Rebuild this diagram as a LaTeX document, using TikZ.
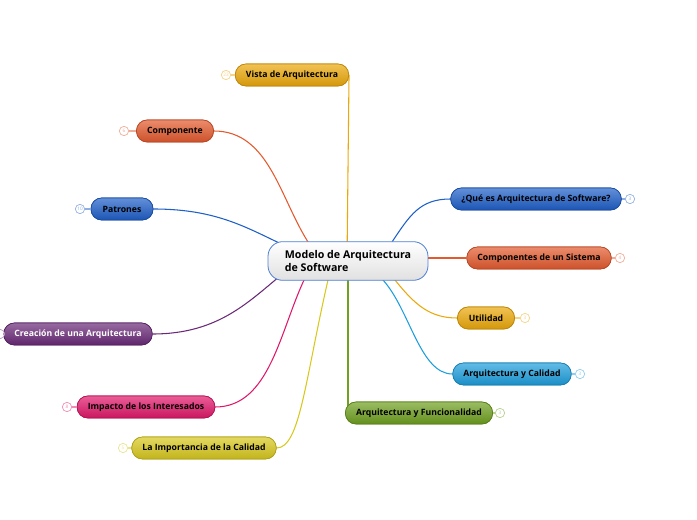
\documentclass[tikz,border=0pt]{standalone}
\usepackage{fontspec}
\setmainfont{Open Sans}
\begin{document}
\begin{tikzpicture}[x=0.75pt,y=-0.75pt,
  br/.style={rounded corners=8pt,draw=#1!80!black,line width=0.5pt,top color=#1!70!white,bottom color=#1!90!black,minimum height=16.5pt,inner xsep=8pt,font=\fontsize{6.5}{7}\selectfont\bfseries,text=black},
  cnt/.style={circle,draw=#1!50!white,line width=0.5pt,fill=white,inner sep=0pt,minimum size=7pt,font=\fontsize{3.5}{4}\selectfont,text=#1!50!white},
  ln/.style={draw=#1,line width=0.8pt}]
\useasboundingbox (0,0) rectangle (697,520);
\definecolor{cOr}{HTML}{EBA80A}
\definecolor{cRe}{HTML}{E35A2E}
\definecolor{cBl}{HTML}{1F5FC8}
\definecolor{cPu}{HTML}{6A2A78}
\definecolor{cPi}{HTML}{E0186A}
\definecolor{cYe}{HTML}{D8C81E}
\definecolor{cSk}{HTML}{1E9EDC}
\definecolor{cGr}{HTML}{6FA020}
% connectors first
\coordinate (c) at (348,261);
\node[br=cOr,minimum width=82.5pt] (vista) at (292,75) {Vista de Arquitectura};
\node[br=cRe,minimum width=57.75pt] (comp) at (175,131) {Componente};
\node[br=cBl,minimum width=46.5pt] (pat) at (122,209) {Patrones};
\node[br=cPu,minimum width=106.5pt,text=white] (crea) at (78,334) {Creación de una Arquitectura};
\node[br=cPi,minimum width=100.5pt] (imp) at (146,407) {Impacto de los Interesados};
\node[br=cYe,minimum width=105pt] (calq) at (204,448) {La Importancia de la Calidad};
\node[br=cBl,minimum width=123.75pt] (que) at (536,199) {¿Qué es Arquitectura de Software?};
\node[br=cRe,minimum width=104.25pt] (csis) at (539,258) {Componentes de un Sistema};
\node[br=cOr,minimum width=42.75pt] (util) at (486,318) {Utilidad};
\node[br=cSk,minimum width=86.25pt] (acal) at (512,374) {Arquitectura y Calidad};
\node[br=cGr,minimum width=105pt] (afun) at (419,413) {Arquitectura y Funcionalidad};
\begin{scope}[on background layer/.style={}]
\draw[ln=cOr] (vista.east) -- (347,261);
\draw[ln=cRe] (comp.east) .. controls (270,131) and (280,200) .. (310,245);
\draw[ln=cBl] (pat.east) .. controls (220,209) and (250,230) .. (290,248);
\draw[ln=cPu] (crea.east) .. controls (220,334) and (250,300) .. (285,272);
\draw[ln=cPi] (imp.east) .. controls (270,407) and (280,330) .. (305,278);
\draw[ln=cYe] (calq.east) .. controls (300,448) and (305,380) .. (328,280);
\draw[ln=cBl] (que.west) .. controls (420,199) and (410,215) .. (392,242);
\draw[ln=cRe] (csis.west) -- (427,258);
\draw[ln=cOr] (util.west) .. controls (430,318) and (415,305) .. (395,280);
\draw[ln=cSk] (acal.west) .. controls (420,374) and (410,310) .. (383,280);
\draw[ln=cGr] (348,280) -- (348,413) -- (afun.west);
\end{scope}
\node[rounded corners=11pt,draw=cBl!80!white,line width=0.6pt,top color=white,bottom color=black!12,minimum width=120pt,minimum height=29pt,align=left,font=\fontsize{8}{9.5}\selectfont\bfseries] (ctr) at (c) {Modelo de Arquitectura\\de Software};
% redraw branch nodes on top of lines
\foreach \n/\col/\w/\x/\y/\t in {vista/cOr/82.5/292/75/Vista de Arquitectura, comp/cRe/57.75/175/131/Componente, pat/cBl/46.5/122/209/Patrones, imp/cPi/100.5/146/407/Impacto de los Interesados, calq/cYe/105/204/448/La Importancia de la Calidad, que/cBl/123.75/536/199/¿Qué es Arquitectura de Software?, csis/cRe/104.25/539/258/Componentes de un Sistema, util/cOr/42.75/486/318/Utilidad, acal/cSk/86.25/512/374/Arquitectura y Calidad, afun/cGr/105/419/413/Arquitectura y Funcionalidad}
  {\node[br=\col,minimum width=\w pt] at (\x,\y) {\t};}
\node[br=cPu,minimum width=106.5pt,text=white] at (78,334) {Creación de una Arquitectura};
% counters
\node[cnt=cOr] (n1) at (226,75) {23}; \draw[cOr!50!white,line width=0.8pt] (n1) -- (vista.west);
\node[cnt=cRe] (n2) at (124,131) {6}; \draw[cRe!50!white,line width=0.8pt] (n2) -- (comp.west);
\node[cnt=cBl] (n3) at (80,209) {10}; \draw[cBl!50!white,line width=0.8pt] (n3) -- (pat.west);
\node[cnt=cPu] (n4) at (0,334) {}; \draw[cPu!50!white,line width=0.8pt] (n4) -- (crea.west);
\node[cnt=cPi] (n5) at (67,407) {8}; \draw[cPi!50!white,line width=0.8pt] (n5) -- (imp.west);
\node[cnt=cYe] (n6) at (123,448) {5}; \draw[cYe!50!white,line width=0.8pt] (n6) -- (calq.west);
\node[cnt=cBl] (n7) at (630,199) {3}; \draw[cBl!50!white,line width=0.8pt] (n7) -- (que.east);
\node[cnt=cRe] (n8) at (620,258) {4}; \draw[cRe!50!white,line width=0.8pt] (n8) -- (csis.east);
\node[cnt=cOr] (n9) at (525,318) {3}; \draw[cOr!50!white,line width=0.8pt] (n9) -- (util.east);
\node[cnt=cSk] (n10) at (580,374) {3}; \draw[cSk!50!white,line width=0.8pt] (n10) -- (acal.east);
\node[cnt=cGr] (n11) at (500,413) {3}; \draw[cGr!50!white,line width=0.8pt] (n11) -- (afun.east);
\end{tikzpicture}
\end{document}
